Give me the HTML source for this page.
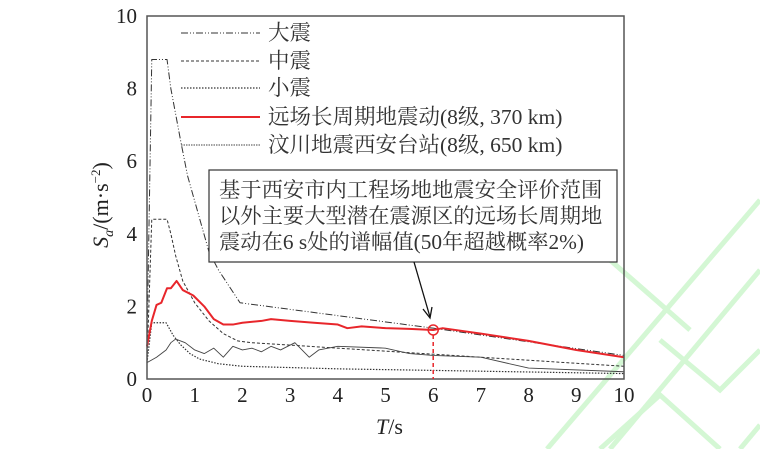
<!DOCTYPE html>
<html><head><meta charset="utf-8"><style>
body{margin:0;background:#fff;}
svg{display:block;font-family:"Liberation Serif","Noto Serif CJK SC",serif;}
</style></head><body>
<svg id="c" width="760" height="449" viewBox="0 0 760 449">
<g stroke="#d4f7d4" stroke-width="5" fill="none">
<polyline points="547,449 760,200"/><polyline points="610,449 760,270"/><polyline points="660,340 720,390 760,350"/><polyline points="610,260 690,330"/><polyline points="600,449 660,395 720,449"/><polyline points="740,449 760,425"/>
</g>
<g id="plot"></g>
</svg>
<script>
const xTicks=[0,1,2,3,4,5,6,7,8,9,10];
const yTicks=[0,2,4,6,8,10];
const bigT=[0,0.1,0.42,0.5,0.6,0.7,0.85,1.0,1.15,1.3,1.5,1.7,1.95,6.0,10];
const bigV=[0.9,8.8,8.8,8.0,7.3,6.6,5.6,4.9,4.2,3.5,3.0,2.6,2.1,1.4,0.65];
const midT=[0,0.1,0.42,0.5,0.6,0.75,1.0,1.3,1.6,1.9,2.2,10];
const midV=[0.45,4.4,4.4,4.0,3.4,2.7,2.1,1.6,1.25,1.05,1.0,0.35];
const smlT=[0,0.1,0.4,0.55,0.7,0.9,1.1,1.5,2.0,4.0,10];
const smlV=[0.45,1.55,1.55,1.2,0.95,0.7,0.55,0.42,0.35,0.28,0.15];
const redT=[0,0.1,0.2,0.3,0.42,0.5,0.62,0.75,0.97,1.2,1.4,1.6,1.8,2.0,2.4,2.6,3.0,3.5,4.0,4.2,4.5,5.0,5.5,6.0,6.2,7,8,9,10];
const redV=[0.9,1.6,2.04,2.1,2.5,2.5,2.7,2.45,2.3,2.0,1.65,1.5,1.5,1.55,1.6,1.65,1.6,1.55,1.5,1.4,1.45,1.4,1.38,1.35,1.4,1.25,1.05,0.8,0.6];
const wcT=[0,0.2,0.4,0.5,0.6,0.8,1.0,1.2,1.4,1.6,1.8,2.0,2.2,2.4,2.6,2.8,3.1,3.4,3.6,4,5,5.5,6,7,8,10];
const wcV=[0.45,0.6,0.8,1.0,1.1,1.0,0.8,0.7,0.85,0.6,0.9,0.8,0.85,0.75,0.9,0.8,1.0,0.6,0.8,0.9,0.85,0.7,0.65,0.6,0.3,0.2];
const markT=6, markV=1.35;
const X0=147,X1=624,Y0=379,Y1=16;
const sx=t=>X0+(X1-X0)*t/10, sy=v=>Y0-(Y0-Y1)*v/10;
const g=document.getElementById('plot');const NS='http://www.w3.org/2000/svg';
function mk(tag,at,txt){const e=document.createElementNS(NS,tag);for(const k in at)e.setAttribute(k,at[k]);if(txt!=null)e.textContent=txt;g.appendChild(e);return e;}
function line(T,V,st,name){const e=mk('polyline',Object.assign({points:T.map((t,i)=>sx(t)+','+sy(V[i])).join(' '),fill:'none','stroke-linejoin':'round'},st));

}
line(bigT,bigV,{stroke:'#333','stroke-width':1,'stroke-dasharray':'7 2 1 2 1 2'},'series-large-earthquake');
line(midT,midV,{stroke:'#333','stroke-width':1,'stroke-dasharray':'3 2'},'series-medium-earthquake');
line(smlT,smlV,{stroke:'#333','stroke-width':1.2,'stroke-dasharray':'1.5 1.5'},'series-small-earthquake');
line(wcT,wcV,{stroke:'#444','stroke-width':0.9},'series-wenchuan');
line(redT,redV,{stroke:'#e8262b','stroke-width':2},'series-far-field');
let f=mk('rect',{x:X0,y:Y1,width:X1-X0,height:Y0-Y1,fill:'none',stroke:'#555','stroke-width':1.5});


xTicks.forEach(t=>{const e=mk('text',{x:sx(t),y:402,'text-anchor':'middle','font-size':21,fill:'#222'},t);

});
yTicks.forEach(v=>{const e=mk('text',{x:137,y:sy(v)+7,'text-anchor':'end','font-size':21,fill:'#222'},v);

});
let xt=mk('text',{x:376,y:434,'font-size':22,fill:'#222'});xt.innerHTML='<tspan font-style="italic">T</tspan>/s';


let yt=mk('text',{x:0,y:0,'font-size':22,fill:'#222',transform:'translate(108,205) rotate(-90)','text-anchor':'middle'});
yt.innerHTML='<tspan font-style="italic">S</tspan><tspan font-style="italic" font-size="14" dy="5">a</tspan><tspan dy="-5">/(m·s</tspan><tspan font-size="13" dy="-8">−2</tspan><tspan dy="8">)</tspan>';


const leg=[['大震',{stroke:'#333','stroke-dasharray':'7 2 1 2 1 2'}],['中震',{stroke:'#333','stroke-dasharray':'3 2'}],['小震',{stroke:'#333','stroke-dasharray':'1.5 1.5','stroke-width':1.2}],['远场长周期地震动(8级, 370 km)',{stroke:'#e8262b','stroke-width':2}],['汶川地震西安台站(8级, 650 km)',{stroke:'#444','stroke-dasharray':'1.5 1','stroke-width':1}]];
const legY=[33,61,88,117,145];
leg.forEach((l,i)=>{const ln=mk('line',Object.assign({x1:181,x2:260,y1:legY[i],y2:legY[i]},l[1]));


const t=mk('text',{x:268,y:legY[i]+7,'font-size':21.5,fill:'#333'},l[0]);

});
let bx=mk('rect',{x:209,y:170,width:408,height:92,fill:'#fff',stroke:'#333','stroke-width':1.2});


['基于西安市内工程场地地震安全评价范围','以外主要大型潜在震源区的远场长周期地','震动在6 s处的谱幅值(50年超越概率2%)'].forEach((s,i)=>{const t=mk('text',{x:219,y:197+i*26,'font-size':21.3,fill:'#333'},s);

});
let ar=mk('line',{x1:414,y1:262,x2:430,y2:317,stroke:'#111','stroke-width':1.3});


let ah=mk('polyline',{points:'423,309 430,318 432,307',fill:'none',stroke:'#111','stroke-width':1.3});


let vl=mk('line',{x1:sx(markT),x2:sx(markT),y1:sy(markV)+5,y2:Y0,stroke:'#e8262b','stroke-width':1.5,'stroke-dasharray':'4 3'});


let ci=mk('circle',{cx:sx(markT),cy:sy(markV),r:5,fill:'none',stroke:'#e8262b','stroke-width':1.5});


</script>
</body></html>
